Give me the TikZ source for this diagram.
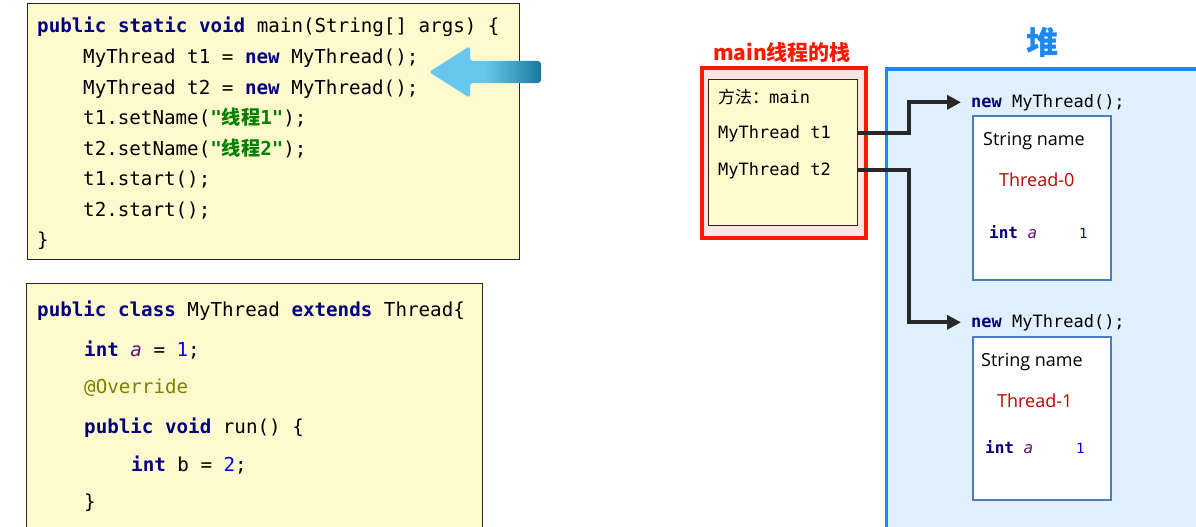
\documentclass[tikz,border=0pt]{standalone}
\usepackage{fontspec}
\usepackage{xcolor}
\usepackage{tikz}
\usetikzlibrary{arrows.meta,positioning,calc}
\setmainfont{Open Sans}
\newfontfamily\codefont{DejaVu Sans Mono}
\newfontfamily\cjk{Noto Sans CJK SC}
\definecolor{kwcol}{RGB}{0,0,128}
\definecolor{numcol}{RGB}{0,0,255}
\definecolor{fldcol}{RGB}{102,14,122}
\definecolor{anncol}{RGB}{128,128,0}
\definecolor{strcol}{RGB}{0,128,0}
\definecolor{codefill}{RGB}{255,250,205}
\definecolor{stackpink}{RGB}{252,228,224}
\definecolor{stackred}{RGB}{255,24,0}
\definecolor{heapblue}{RGB}{30,136,240}
\definecolor{heapfill}{RGB}{224,240,255}
\definecolor{objline}{RGB}{74,126,187}
\definecolor{namered}{RGB}{192,0,0}
\definecolor{ptrgray}{RGB}{40,40,40}
\definecolor{arrowlight}{RGB}{103,199,236}
\definecolor{arrowdark}{RGB}{27,122,156}
\newcommand{\kw}[1]{{\bfseries\color{kwcol}#1}}
\newcommand{\num}[1]{{\color{numcol}#1}}
\newcommand{\fld}[1]{{\itshape\color{fldcol}#1}}
\newcommand{\ann}[1]{{\color{anncol}#1}}
\newcommand{\jstr}[1]{{\bfseries\color{strcol}#1}}
\tikzset{
  codebox/.style={draw=black!85, fill=codefill, line width=1pt, inner sep=0pt},
  code/.style={anchor=base west, inner sep=0pt, font=\codefont\fontsize{19.2}{23}\selectfont},
  stackbox/.style={draw=stackred, fill=stackpink, line width=4pt, inner sep=0pt},
  framebox/.style={draw=black!85, fill=codefill, line width=1pt, inner sep=0pt},
  vartext/.style={anchor=base west, inner sep=0pt, font=\codefont\fontsize{17}{20}\selectfont},
  heapbox/.style={draw=heapblue, fill=heapfill, line width=3pt, inner sep=0pt},
  objbox/.style={draw=objline, fill=white, line width=2pt, inner sep=0pt},
  fieldtext/.style={anchor=base west, inner sep=0pt, font=\fontsize{18}{21}\selectfont},
  title/.style={inner sep=0pt, font=\cjk\bfseries},
  ptr/.style={-{Triangle[length=14pt,width=14pt]}, line width=4pt, draw=ptrgray},
}
\begin{document}
\begin{tikzpicture}[x=1pt, y=-1pt]
  \useasboundingbox[fill=white] (0,0) rectangle (1196,527);
  % code of main
  \node[codebox, minimum width=492pt, minimum height=255pt] (mainbox) at (273,131.5) {};
  \node[code] (m1) at (37,33) {\kw{public} \kw{static} \kw{void} main(String[] args) \{};
  \node[code] (m2) at (83,63.5) {MyThread t1 = \kw{new} MyThread();};
  \node[code] (m3) at (83,94) {MyThread t2 = \kw{new} MyThread();};
  \node[code] (m4) at (83,124.5) {t1.setName(\jstr{"{\cjk 线程}1"});};
  \node[code] (m5) at (83,155) {t2.setName(\jstr{"{\cjk 线程}2"});};
  \node[code] (m6) at (83,185.5) {t1.start();};
  \node[code] (m7) at (83,216) {t2.start();};
  \node[code] (m8) at (37,246.5) {\}};
  % current line
  \shade[left color=arrowlight, right color=arrowdark, middle color=arrowlight, rounded corners=3pt]
    (541,61) -- (470,61) -- (470,46) -- (429,72) -- (470,98) -- (470,83) -- (541,83) -- cycle;
  % code of MyThread
  \node[codebox, minimum width=456pt, minimum height=260pt] (classbox) at (254,413) {};
  \node[code] (c1) at (37,316) {\kw{public} \kw{class} MyThread \kw{extends} Thread\{};
  \node[code] (c2) at (84,356) {\kw{int} \fld{a} = \num{1};};
  \node[code] (c3) at (84,393) {\ann{@Override}};
  \node[code] (c4) at (84,433) {\kw{public} \kw{void} run() \{};
  \node[code] (c5) at (131,471) {\kw{int} b = \num{2};};
  \node[code] (c6) at (84,508) {\}};
  % stack of main
  \node[stackbox, minimum width=164pt, minimum height=170pt] (stack) at (784,153) {};
  \node[title, text=stackred, font=\cjk\bfseries\fontsize{21}{24}\selectfont] (stacklbl) at (782,52) {main线程的栈};
  \node[framebox, minimum width=149pt, minimum height=146pt] (frame) at (782.5,152) {};
  \node[vartext] (meth) at (718,103) {{\cjk 方法：}main};
  \node[vartext] (t1) at (718,138) {MyThread t1};
  \node[vartext] (t2) at (718,175) {MyThread t2};
  % heap
  \node[heapbox, minimum width=330pt, minimum height=480pt] (heap) at (1051,309) {};
  \node[title, text=heapblue, font=\cjk\bfseries\fontsize{32}{36}\selectfont] (heaplbl) at (1042,42) {堆};
  \node[vartext] (new1) at (971,107) {\kw{new} MyThread();};
  \node[objbox, minimum width=138pt, minimum height=164pt] (obj1) at (1042,198) {};
  \node[fieldtext] (name1) at (983,145) {String name};
  \node[fieldtext, text=namered] (val1) at (999,186) {Thread-0};
  \node[vartext, font=\codefont\fontsize{16}{19}\selectfont] (int1) at (989,238) {\kw{int} \fld{a}};
  \node[vartext, font=\codefont\fontsize{14}{16}\selectfont] (one1) at (1079,238) {\num{1}};
  \node[vartext] (new2) at (971,327) {\kw{new} MyThread();};
  \node[objbox, minimum width=138pt, minimum height=163pt] (obj2) at (1042,418.5) {};
  \node[fieldtext] (name2) at (981,366) {String name};
  \node[fieldtext, text=namered] (val2) at (997,407) {Thread-1};
  \node[vartext, font=\codefont\fontsize{16}{19}\selectfont] (int2) at (985,453) {\kw{int} \fld{a}};
  \node[vartext, font=\codefont\fontsize{14}{16}\selectfont] (one2) at (1076,453) {\num{1}};
  % references
  \draw[ptr] (frame.east |- t1) -| ([xshift=-62pt]new1.west) -- ([xshift=-10pt]new1.west);
  \draw[ptr] (frame.east |- t2) -| ([xshift=-62pt]new2.west) -- ([xshift=-10pt]new2.west);
\end{tikzpicture}
\end{document}
